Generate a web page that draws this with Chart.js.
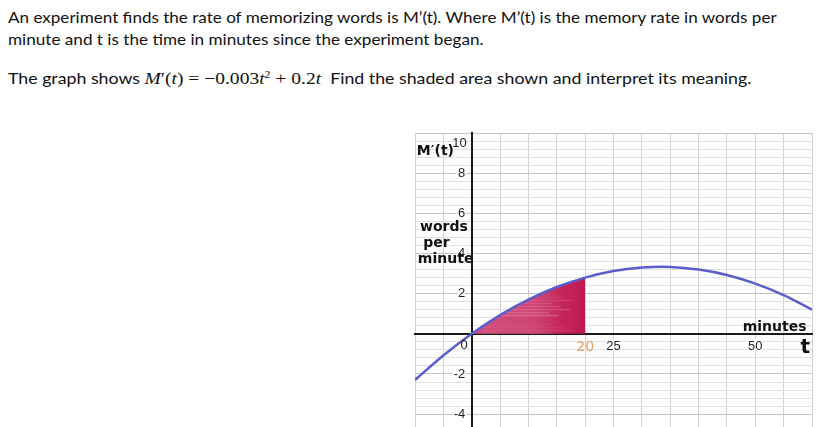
<!DOCTYPE html>
<html>
<head>
<meta charset="utf-8">
<script src="https://cdn.jsdelivr.net/npm/chart.js@4.4.1/dist/chart.umd.min.js"></script>
<style>
  body { margin: 0; background: #fff; width: 821px; height: 427px; overflow: hidden; position: relative; }
  .linea { position: absolute; left: 8px; white-space: nowrap; font-family: Lato, "Open Sans", sans-serif;
           font-size: 15px; line-height: 20px; color: #111; transform-origin: 0 0; }
  .mate { font-family: "Liberation Serif", "DejaVu Serif", serif; font-size: 16.5px; }
  .mate sup { font-size: 10px; line-height: 0; vertical-align: 6px; }
  #grafica { position: absolute; left: 380px; top: 120px; }
</style>
</head>
<body>
<div class="linea" data-ancho="769" style="top:7px">An experiment finds the rate of memorizing words is M’(t). Where M’(t) is the memory rate in words per</div>
<div class="linea" data-ancho="476" style="top:29px">minute and t is the time in minutes since the experiment began.</div>
<div class="linea" data-ancho="744" style="top:68px">The graph shows <span class="mate"><i>M</i>′(<i>t</i>) = −0.003<i>t</i><sup>2</sup> + 0.2<i>t</i></span>&nbsp; Find the shaded area shown and interpret its meaning.</div>
<canvas id="grafica" width="441" height="319"></canvas>
<script>
// datos (minutos, palabras por minuto)
const tiempos = [-10, -5, 0, 5, 10, 15, 20, 25, 30, 35, 40, 45, 50, 55, 60];
const ritmo = [-2.3, -1.08, 0, 0.93, 1.7, 2.33, 2.8, 3.13, 3.3, 3.33, 3.2, 2.93, 2.5, 1.93, 1.2];
const inicioSombra = 0;
const finSombra = 20;
const ticksX = [25, 50];
const ticksY = [-4, -2, 2, 4, 6, 8];

// ajustamos el ancho de cada linea de texto
document.querySelectorAll(".linea").forEach((el) => {
  const ancho = parseFloat(el.dataset.ancho);
  el.style.transform = `scaleX(${ancho / el.offsetWidth})`;
});

const puntos = tiempos.map((t, i) => ({ x: t, y: ritmo[i] }));
const sombra = puntos.filter((p) => p.x >= inicioSombra && p.x <= finSombra);

const esMultiplo = (v, paso) => Math.abs(v / paso - Math.round(v / paso)) < 1e-6;

let patron = null;
const rellenoSombra = (context) => {
  const chart = context.chart;
  if (!chart.chartArea) return "rgba(205,45,95,0.85)";
  if (patron) return patron;
  const { x } = chart.scales;
  const off = document.createElement("canvas");
  off.width = chart.width;
  off.height = chart.height;
  const c = off.getContext("2d");
  const x0 = x.getPixelForValue(inicioSombra);
  const x1 = x.getPixelForValue(finSombra);
  const g = c.createLinearGradient(x0, 0, x1, 0);
  g.addColorStop(0, "#d24f7b");
  g.addColorStop(0.55, "#cf4373");
  g.addColorStop(0.8, "#c5245a");
  g.addColorStop(1, "#be1a50");
  c.fillStyle = g;
  c.fillRect(0, 0, off.width, off.height);
  // trazos claros como de rotulador
  for (let i = 0; i < off.height; i += 3) {
    const a = ((i * 37) % 11) / 28;
    c.strokeStyle = `rgba(242,170,195,${a})`;
    c.lineWidth = 1.4;
    c.beginPath();
    c.moveTo(x0 + ((i * 13) % 20), i + 0.5);
    c.lineTo(x1 - 12 - ((i * 7) % 30), i + 0.5);
    c.stroke();
  }
  patron = c.createPattern(off, "no-repeat");
  return patron;
};

const textos = {
  id: "textos",
  afterDraw(chart) {
    const { ctx, scales: { x, y } } = chart;
    const px = (v) => x.getPixelForValue(v);
    const py = (v) => y.getPixelForValue(v);
    ctx.save();
    ctx.fillStyle = "#222";
    ctx.font = "13px 'Liberation Sans', Arial, sans-serif";
    ctx.textAlign = "right";
    ctx.textBaseline = "middle";
    ctx.fillText("10", px(0) - 5, py(10) + 10);
    ctx.textBaseline = "top";
    ctx.fillText("0", px(0) - 4, py(0) + 5);

    // anotaciones a mano
    ctx.fillStyle = "#111";
    ctx.textAlign = "center";
    ctx.textBaseline = "middle";
    ctx.font = "bold 14px 'DejaVu Sans', sans-serif";
    ctx.fillText("M′(t)", px(-6.4), py(9.1));
    ctx.fillText("words", px(-4.9), py(5.3));
    ctx.fillText("per", px(-6.2), py(4.5));
    ctx.fillText("minute", px(-4.6), py(3.7));
    ctx.fillText("minutes", px(53.4), py(0.3));
    ctx.font = "bold 20px 'DejaVu Sans', sans-serif";
    ctx.fillText("t", px(58.8), py(-0.7));
    ctx.fillStyle = "#e8a15e";
    ctx.font = "14px 'DejaVu Sans', sans-serif";
    ctx.fillText("20", px(20), py(-0.65));
    ctx.restore();
  },
};

const fuenteTick = { family: "'Liberation Sans', Arial, sans-serif", size: 13 };

new Chart("grafica", {
  type: "line",
  data: {
    datasets: [
      {
        data: puntos,
        borderColor: "#5a5ecb",
        borderWidth: 2.5,
        pointRadius: 0,
        tension: 0.4,
        fill: false,
        order: 0,
      },
      {
        data: sombra,
        borderWidth: 0,
        borderColor: "rgba(0,0,0,0)",
        pointRadius: 0,
        tension: 0.4,
        fill: "origin",
        backgroundColor: rellenoSombra,
        order: 1,
      },
    ],
  },
  options: {
    responsive: false,
    animation: false,
    layout: { padding: { left: 35, top: 13, right: 9, bottom: 2 } },
    plugins: { legend: { display: false }, tooltip: { enabled: false } },
    scales: {
      x: {
        type: "linear",
        min: -10,
        max: 60,
        position: { y: 0 },
        ticks: {
          stepSize: 5,
          autoSkip: false,
          maxRotation: 0,
          padding: 5,
          color: "#222",
          font: fuenteTick,
          textStrokeColor: "#fff",
          textStrokeWidth: 3,
          callback: (v) => (ticksX.includes(v) ? String(v) : ""),
        },
        grid: { drawTicks: false, color: "#d0d0d0" },
        border: { color: "#1a1a1a", width: 2 },
      },
      y: {
        type: "linear",
        min: -4.7,
        max: 10,
        position: { x: 0 },
        ticks: {
          stepSize: 0.4,
          autoSkip: false,
          color: "#222",
          font: fuenteTick,
          textStrokeColor: "#fff",
          textStrokeWidth: 3,
          // con el eje en x = 0 no se aplica el padding, dejamos un espacio al final
          callback: (v) => {
            const r = Math.round(v * 10) / 10;
            return ticksY.includes(r) ? String(r) + "\u2002" : "";
          },
        },
        grid: {
          drawTicks: false,
          color: (c) => {
            const v = c.tick.value;
            if (!esMultiplo(v, 0.4)) return "rgba(0,0,0,0)";
            return esMultiplo(v, 2) ? "#c4c4c4" : "#e0e0e0";
          },
        },
        border: { color: "#1a1a1a", width: 2 },
      },
    },
  },
  plugins: [textos],
});
</script>
</body>
</html>
